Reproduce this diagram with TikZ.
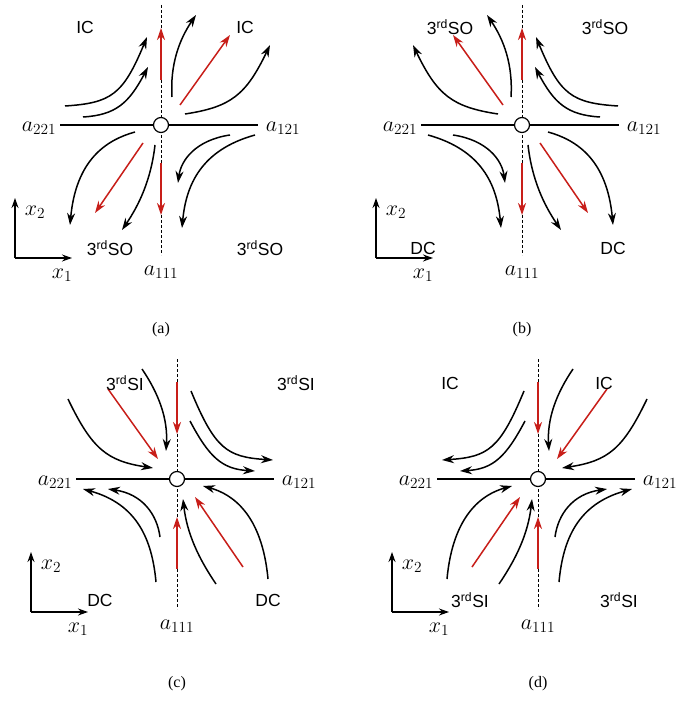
\RequirePackage{fix-cm}
\documentclass[tikz,border=0pt]{standalone}
\usepackage{fontspec}
\setmainfont{Liberation Serif}
\setsansfont{Liberation Sans}
\usetikzlibrary{arrows.meta}
\definecolor{rd}{RGB}{200,30,25}
\tikzset{
  flow/.style={line width=1.5pt},
  tipf/.style={-{Stealth[length=12pt,width=8pt]}},
  tipb/.style={{Stealth[length=12pt,width=8pt]}-},
  redf/.style={flow,color=rd},
  reg/.style={font=\sffamily\fontsize{17.5}{20}\selectfont},
  lab/.style={font=\fontsize{22}{24}\selectfont},
  captxt/.style={font=\fontsize{16}{18}\selectfont}
}
% #1 = xscale, #2 = tip style, #3 #4 = shift
\newcommand{\mypanel}[4]{%
\begin{scope}[shift={(#3+161,#4+125)}]
 \draw[densely dashed, line width=0.5pt] (0,-120) coordinate (dt) -- (0,130) coordinate (db);
 \coordinate (hl) at (-101,0); \coordinate (hr) at (97,0);
 \draw[line width=2.4pt] (hl) -- (hr);
 \node[circle,draw,line width=1.2pt,fill=white,minimum size=15pt,inner sep=0pt] (c) at (0,0) {};
 \begin{scope}[xscale=#1]
  \draw[redf,#2] (0,-45) -- (0,-97);
  \draw[redf,#2] (19,-20) -- (69,-90);
  \draw[redf,#2] (-18,18) -- (-66,88);
  \draw[redf,#2] (0,38) -- (0,90);
  \draw[flow,#2] (-96,-19) .. controls (-50,-22) and (-38,-30) .. (-14,-88);
  \draw[flow,#2] (-78,-8) .. controls (-45,-10) and (-32,-22) .. (-13,-58);
  \draw[flow,#2] (11,-28) .. controls (9,-60) and (18,-85) .. (35,-110);
  \draw[flow,#2] (24,-11) .. controls (70,-18) and (85,-30) .. (109,-80);
  \draw[flow,#2] (-26,7) .. controls (-55,15) and (-85,35) .. (-91,100);
  \draw[flow,#2] (-6,20) .. controls (-10,55) and (-22,80) .. (-39,105);
  \draw[flow,#2] (69,10) .. controls (35,15) and (20,35) .. (17,58);
  \draw[flow,#2] (94,10) .. controls (40,25) and (25,60) .. (21,103);
 \end{scope}
 \node[lab] (l1) at (-122,3) {$a_{221}$};
 \node[lab] (l2) at (122,3) {$a_{121}$};
 \node[lab] (l3) at (0,147) {$a_{111}$};
 \coordinate (ax) at (-146,133);
 \coordinate (ay) at (-146,73);
 \coordinate (axr) at (-89,133);
 \draw[line width=1.3pt,-{Stealth[length=10pt,width=7pt]}] (ax) -- (ay);
 \draw[line width=1.3pt,-{Stealth[length=10pt,width=7pt]}] (ax) -- (axr);
 \node[lab] (x2) at (-126,87) {$x_2$};
 \node[lab] (x1) at (-99,150) {$x_1$};
\end{scope}}
\begin{document}
\begin{tikzpicture}[x=1pt,y=-1pt]
\useasboundingbox[fill=white] (0,0) rectangle (685,703);
\mypanel{1}{tipf}{0}{0}
\mypanel{-1}{tipf}{361}{0}
\mypanel{-1}{tipb}{16}{354}
\mypanel{1}{tipb}{377}{354}
\newcommand{\rdt}{3\textsuperscript{rd}}
\node[reg] (ra1) at (85,27) {IC};
\node[reg] (ra2) at (245,27) {IC};
\node[reg] (ra3) at (110,248) {\rdt SO};
\node[reg] (ra4) at (260,248) {\rdt SO};
\node[reg] (rb1) at (450,27) {\rdt SO};
\node[reg] (rb2) at (605,27) {\rdt SO};
\node[reg] (rb3) at (423,248) {DC};
\node[reg] (rb4) at (613,248) {DC};
\node[reg] (rc1) at (125,383) {\rdt SI};
\node[reg] (rc2) at (296,383) {\rdt SI};
\node[reg] (rc3) at (100,600) {DC};
\node[reg] (rc4) at (268,600) {DC};
\node[reg] (rd1) at (450,383) {IC};
\node[reg] (rd2) at (604,383) {IC};
\node[reg] (rd3) at (470,600) {\rdt SI};
\node[reg] (rd4) at (619,600) {\rdt SI};
\node[captxt] (ca) at (161,330) {(a)};
\node[captxt] (cb) at (522,330) {(b)};
\node[captxt] (cc) at (177,684) {(c)};
\node[captxt] (cd) at (538,684) {(d)};
\end{tikzpicture}
\end{document}
